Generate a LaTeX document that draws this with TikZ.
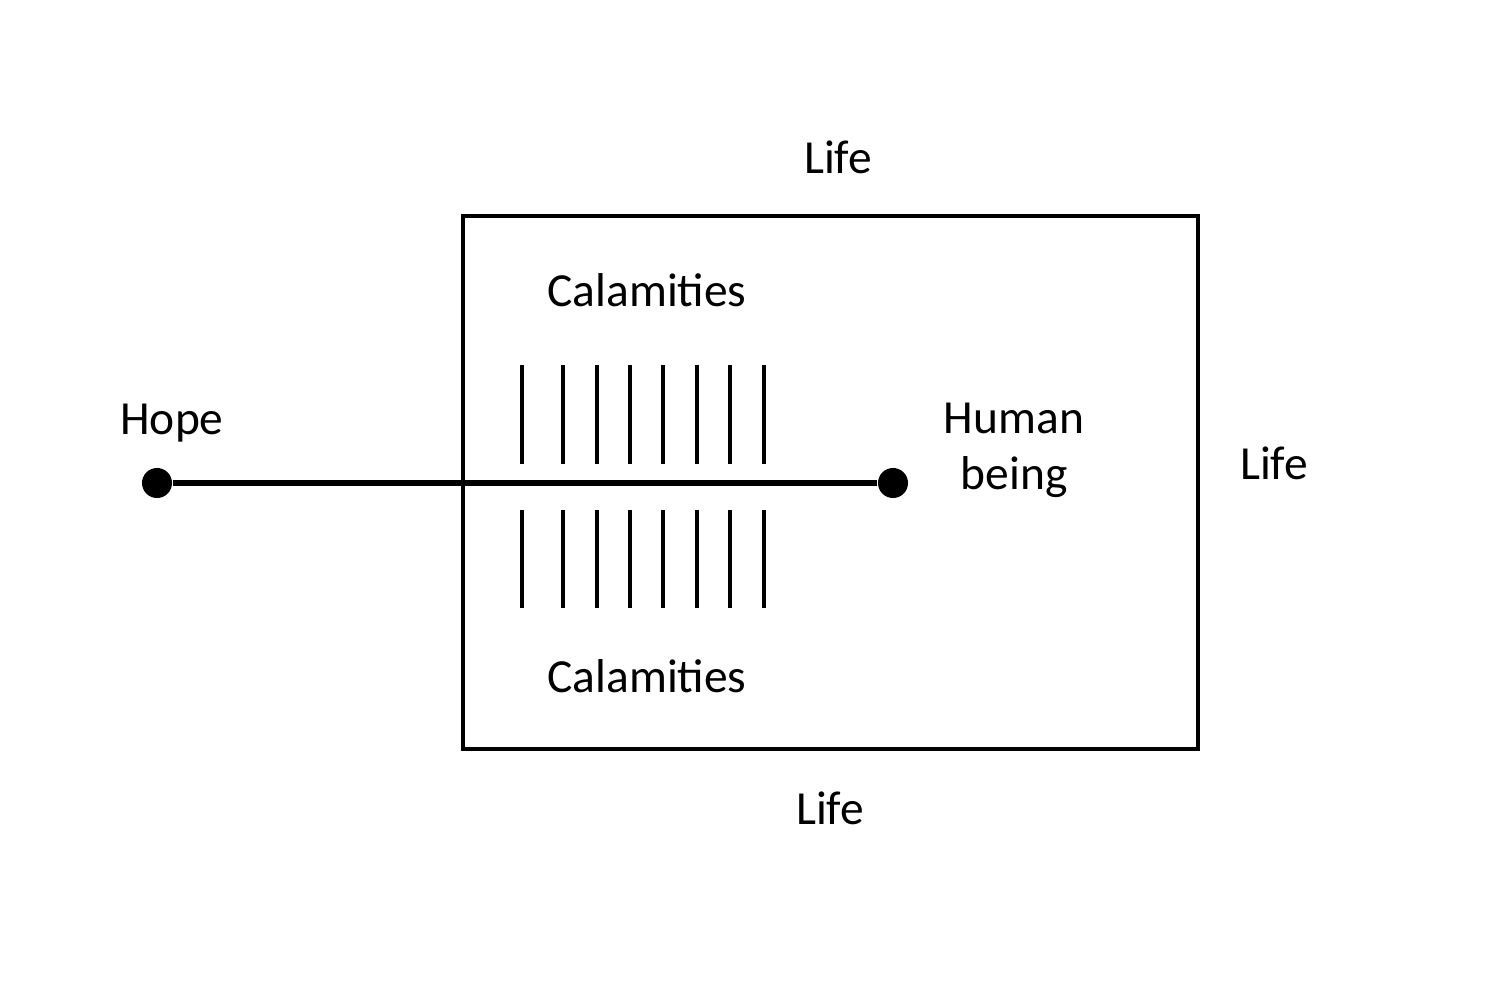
\documentclass[tikz,border=0pt]{standalone}
\usepackage{fontspec}
\setmainfont{Carlito}
\begin{document}
\begin{tikzpicture}[x=0.01cm,y=-0.01cm,
  lbl/.style={font=\fontsize{13.5}{16}\selectfont,inner sep=0pt,align=center},
  bar/.style={line width=1.4pt},
  dot/.style={circle,fill=black,inner sep=0pt,minimum size=0.3cm}]
\useasboundingbox (0,0) rectangle (1500,1000);
\draw[line width=1.1pt] (463,216) rectangle (1198,749);
\foreach \x in {522,563,597,630,663,697,730,764}{
  \draw[bar] (\x,365) -- (\x,464);
  \draw[bar] (\x,510) -- (\x,608);
}
\node[dot] (hope) at (157,483) {};
\node[dot] (human) at (893,483) {};
\draw[line width=1.7pt] (hope) -- (human);
\node[lbl] (l1) at (838,157) {Life};
\node[lbl] (l2) at (1274,463) {Life};
\node[lbl] (l3) at (830,808) {Life};
\node[lbl] (c1) at (647,290) {Calamities};
\node[lbl] (c2) at (647,676) {Calamities};
\node[lbl] (h) at (172,423) {Hope};
\node[lbl] (hb) at (1014,450) {Human\\being};
\end{tikzpicture}
\end{document}
